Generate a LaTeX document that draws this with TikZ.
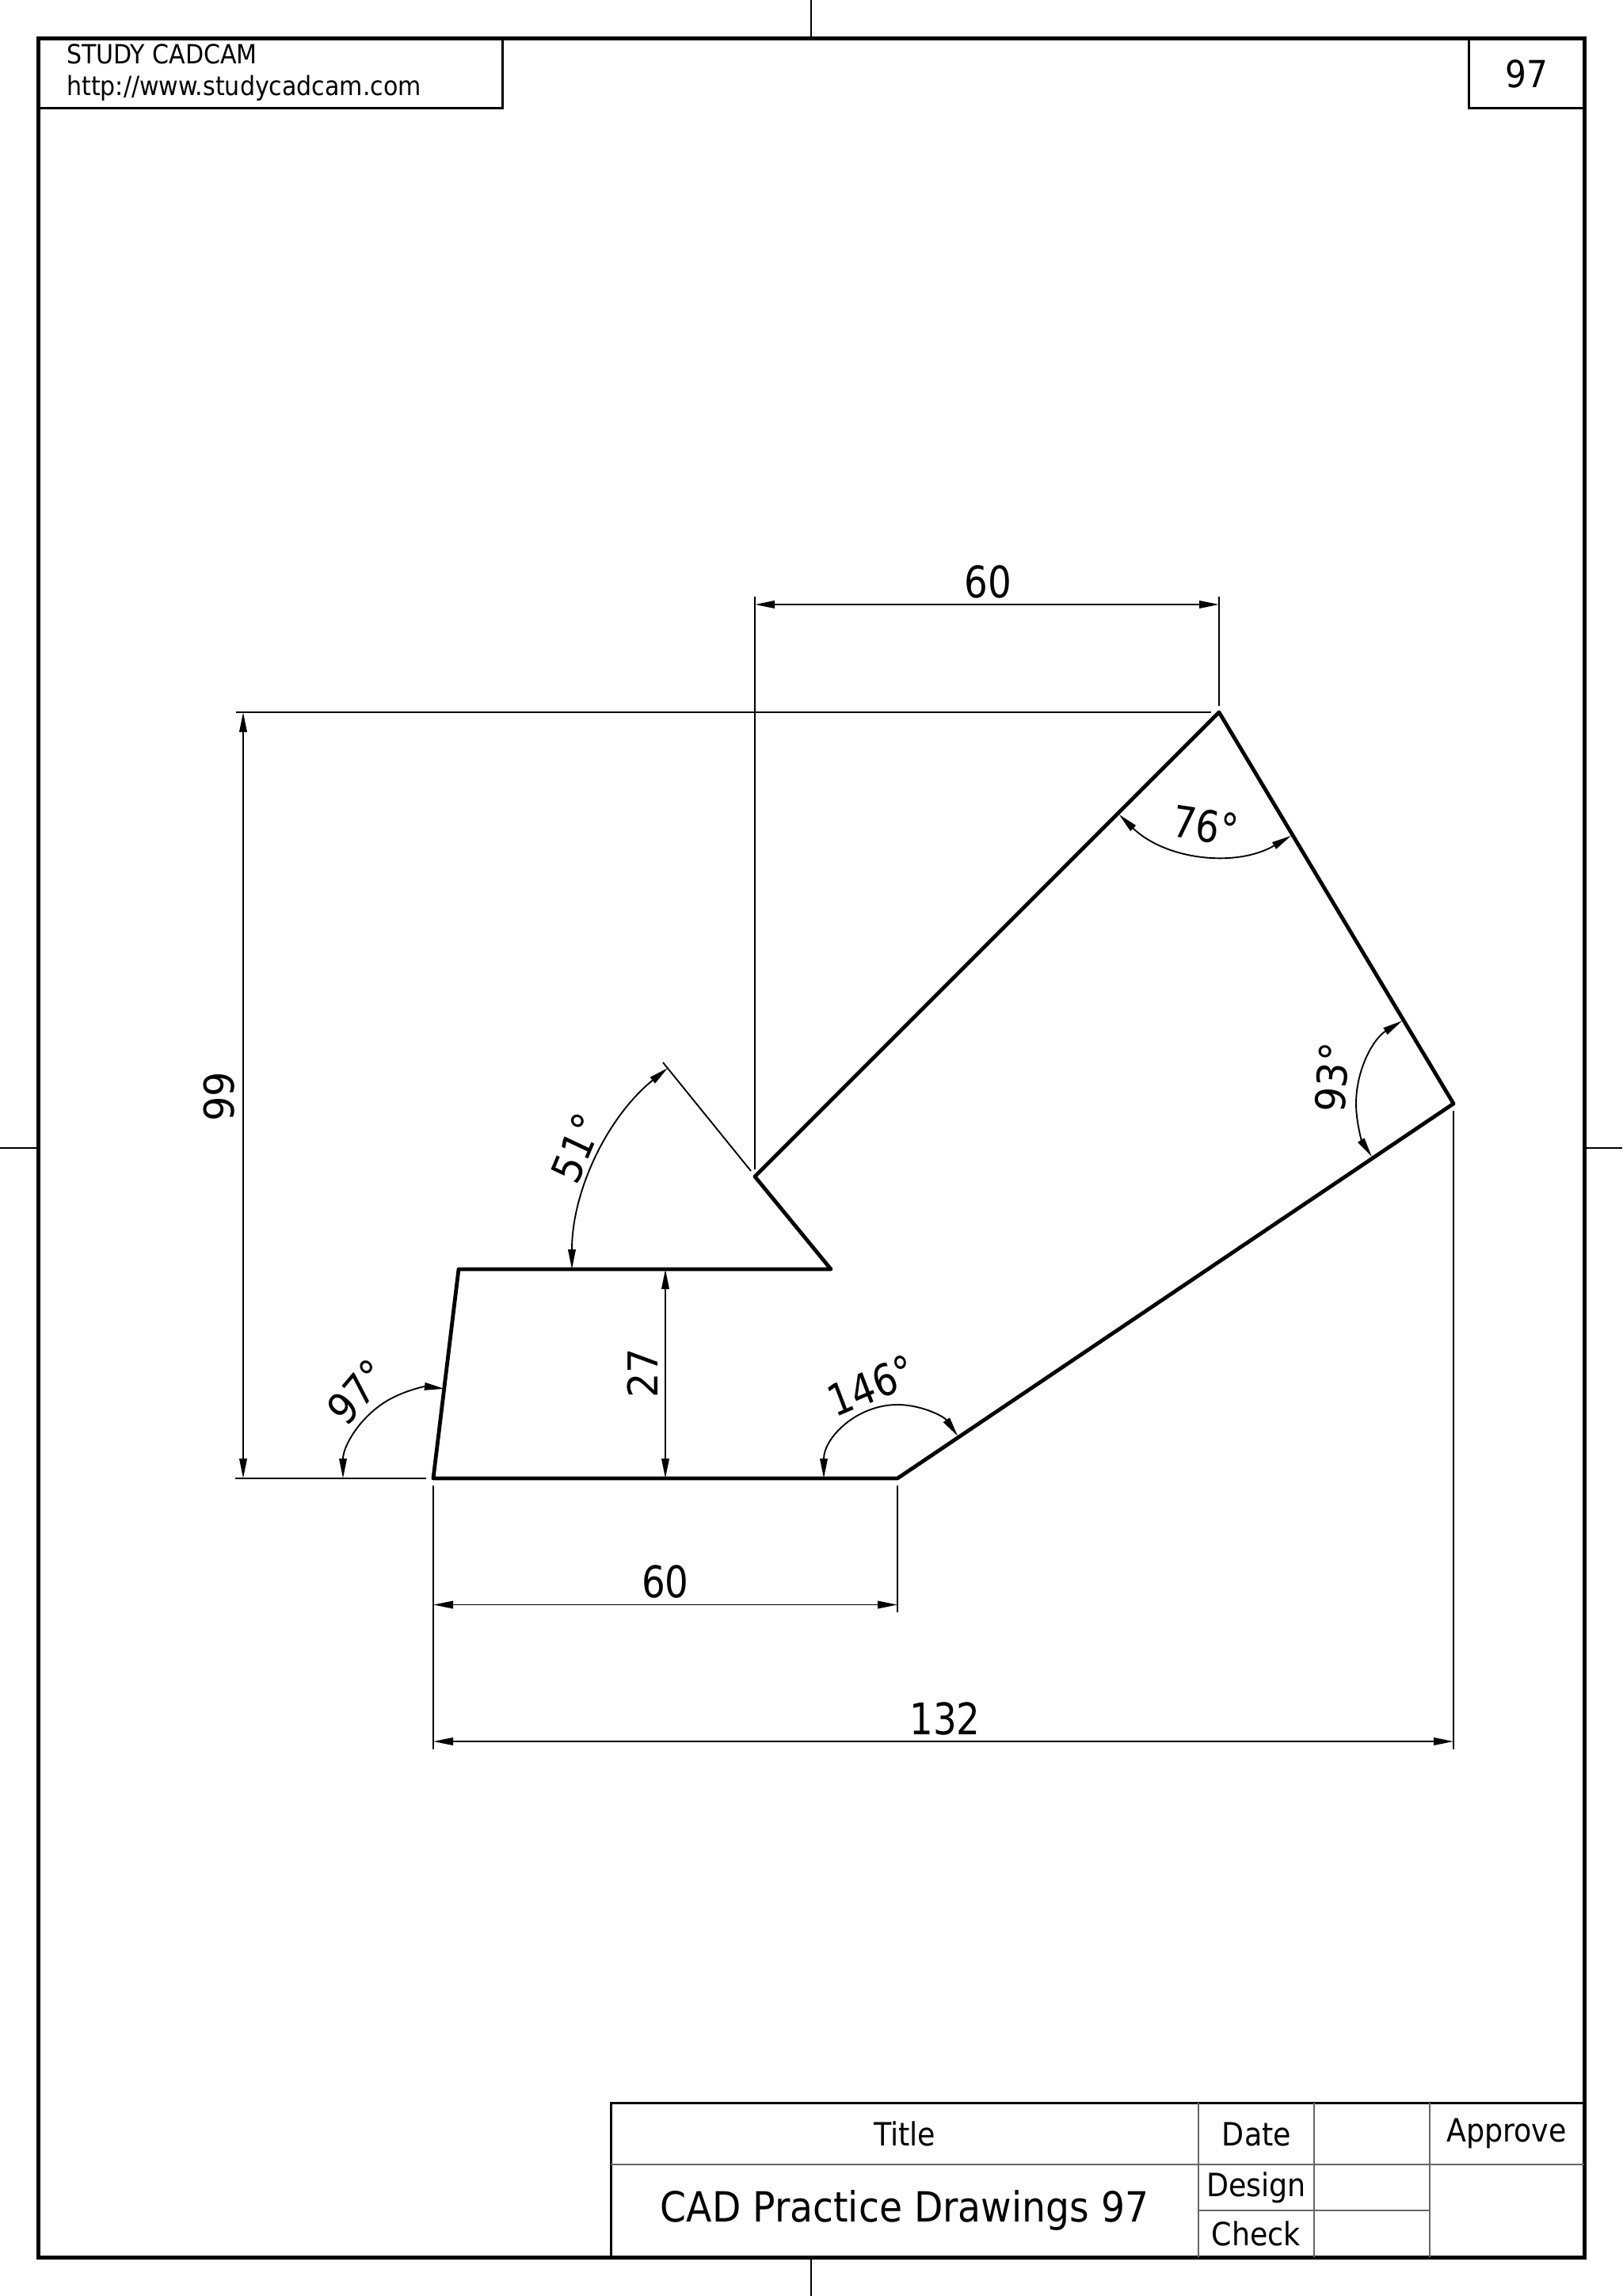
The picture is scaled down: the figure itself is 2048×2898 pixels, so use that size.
\documentclass[tikz,border=0pt]{standalone}
\usepackage{fontspec}
\setmainfont{DejaVu Sans Condensed}
\usetikzlibrary{arrows.meta,calc}
\tikzset{
  frameline/.style={line width=5pt,line join=miter},
  boxline/.style={line width=3pt},
  cellline/.style={line width=1.3pt,draw=black!60},
  outline/.style={line width=4.8pt,line join=round,line cap=round},
  thinline/.style={line width=1.9pt},
  dimline/.style={line width=1.9pt,{Triangle[length=25pt,width=9.5pt]}-{Triangle[length=25pt,width=9.5pt]}},
  headtxt/.style={font=\fontsize{33.4}{40}\selectfont,anchor=base west,inner sep=0pt},
  celltxt/.style={font=\fontsize{40.5}{48}\selectfont,anchor=base,inner sep=0pt},
  titletxt/.style={font=\fontsize{52.5}{60}\selectfont,anchor=base,inner sep=0pt},
  dimtxt/.style={font=\fontsize{55}{60}\selectfont,inner sep=0pt,xscale=.945},
}
\begin{document}
\begin{tikzpicture}[x=1pt,y=-1pt]
\useasboundingbox (0,0) rectangle (2048,2898);
% outline vertices
\coordinate (A) at (547,1866);
\coordinate (B) at (1133,1866);
\coordinate (C) at (1835,1393);
\coordinate (D) at (1539,899);
\coordinate (E) at (953,1485);
\coordinate (F) at (1049,1602);
\coordinate (G) at (579,1602);
% sheet frame
\draw[thinline] (1024,0) -- (1024,49);
\draw[thinline] (1024,2849) -- (1024,2898);
\draw[thinline] (0,1449) -- (48,1449);
\draw[thinline] (2000,1449) -- (2048,1449);
\draw[frameline] (48.5,49) rectangle (2000.3,2849);
% header boxes
\draw[boxline] (48,137) -- (634,137) -- (634,49);
\draw[boxline] (1854,49) -- (1854,137) -- (2000,137);
\node[headtxt] (hdA) at (84,81) {STUDY CADCAM};
\node[headtxt] (hdB) at (84,120.5) {http://www.studycadcam.com};
\node[font=\fontsize{47}{56}\selectfont,inner sep=0pt] (pg) at (1927,93) {97};
% title block
\draw[boxline] (771,2849) -- (771,2654) -- (2000,2654);
\draw[cellline] (771,2732) -- (2000,2732);
\draw[cellline] (1513,2654) -- (1513,2849);
\draw[cellline] (1659,2654) -- (1659,2849);
\draw[cellline] (1805,2654) -- (1805,2849);
\draw[cellline] (1513,2790) -- (1805,2790);
\node[celltxt] (tTitle) at (1142,2708) {Title};
\node[celltxt] (tDate) at (1586.5,2708) {Date};
\node[celltxt] (tApprove) at (1902,2703) {Approve};
\node[celltxt] (tDesign) at (1586,2772) {Design};
\node[celltxt] (tCheck) at (1586,2834) {Check};
\node[titletxt] (tName) at (1142,2804) {CAD Practice Drawings 97};
% part outline
\draw[outline] (A) -- (B) -- (C) -- (D) -- (E) -- (F) -- (G) -- cycle;
% extension lines
\draw[thinline] (953,753) -- (953,1476);
\draw[thinline] (1539,753) -- (1539,891);
\draw[thinline] (298,899) -- (1529,899);
\draw[thinline] (297,1866) -- (538,1866);
\draw[thinline] (547,1875) -- (547,2208);
\draw[thinline] (1133,1875) -- (1133,2035);
\draw[thinline] (1835,1402) -- (1835,2208);
\draw[thinline] (837,1341) -- (948,1478);
% linear dimensions
\draw[dimline] (953,763) -- (1539,763);
\node[dimtxt] (d60a) at (1247,734) {60};
\draw[dimline] (307,899) -- (307,1866);
\node[dimtxt,rotate=90] (d99) at (277,1384) {99};
\draw[dimline] (547,2025.5) -- (1133,2025.5);
\node[dimtxt] (d60b) at (840,1996) {60};
\draw[dimline] (547,2198) -- (1835,2198);
\node[dimtxt] (d132) at (1193,2169) {132};
\draw[dimline] (840,1602) -- (840,1866);
\node[dimtxt,rotate=90] (d27) at (811,1733) {27};
% angular dimensions
\draw[dimline] ($(A)+(-180:114)$) arc[start angle=-180,end angle=-83,radius=114];
\node[dimtxt,rotate=48] (a97) at (451,1757) {97°};
\draw[dimline] ($(F)+(-180:327)$) arc[start angle=-180,end angle=-129,radius=327];
\node[dimtxt,rotate=66] (a51) at (728,1449) {51°};
\draw[dimline] ($(B)+(-180:93)$) arc[start angle=-180,end angle=-35,radius=93];
\node[dimtxt,rotate=22] (a146) at (1100,1749) {146°};
\draw[dimline] ($(D)+(-225.6:180.5)$) arc[start angle=-225.6,end angle=-300.3,radius=180.5];
\node[dimtxt,rotate=-8] (a76) at (1522,1042) {76°};
\draw[dimline] ($(C)+(-121.8:123)$) arc[start angle=-121.8,end angle=-213,radius=123];
\node[dimtxt,rotate=85] (a93) at (1682,1360) {93°};
\end{tikzpicture}
\end{document}
